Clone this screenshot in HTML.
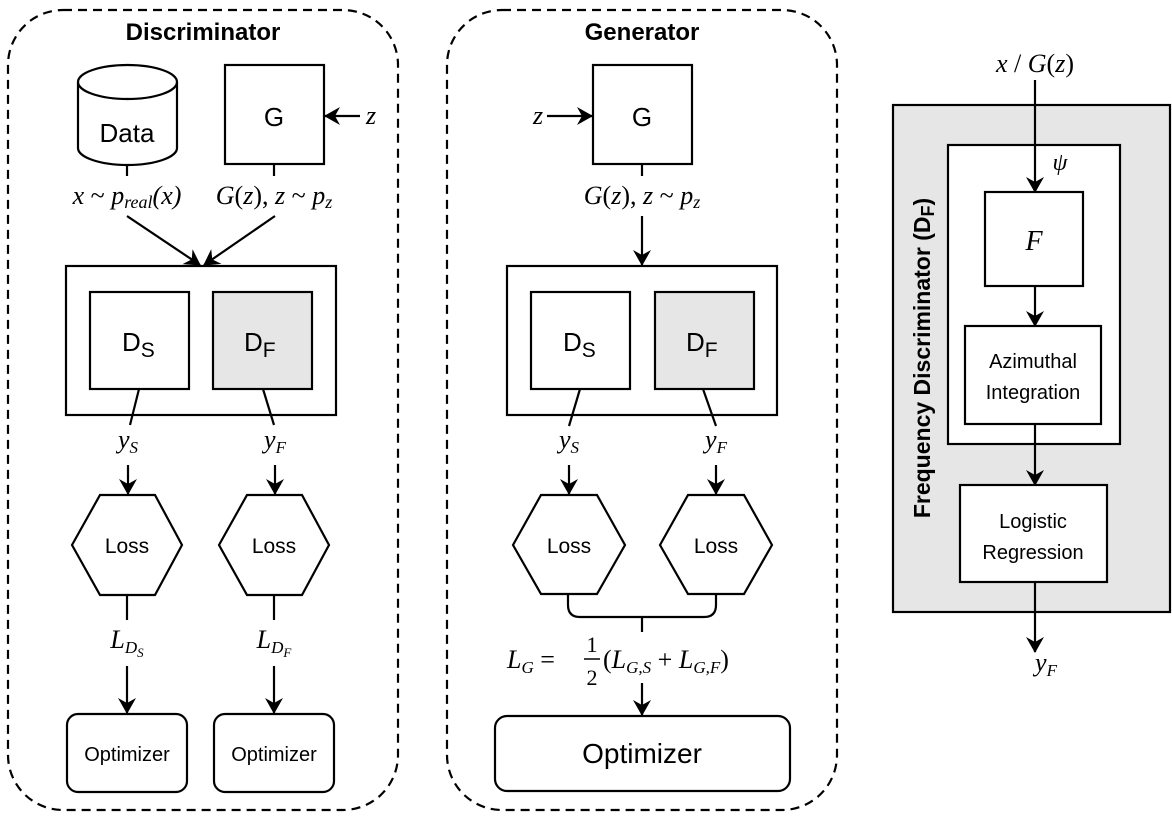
<!DOCTYPE html>
<html><head><meta charset="utf-8"><style>
html,body{margin:0;padding:0;background:#fff;}
svg{display:block;}
text{font-family:"Liberation Sans",sans-serif;fill:#000;}
.m{font-family:"Liberation Serif",serif;font-style:italic;}
.s{font-family:"Liberation Serif",serif;}
</style></head><body>
<svg width="1172" height="818" viewBox="0 0 1172 818" xmlns="http://www.w3.org/2000/svg">
<defs>
<marker id="a" viewBox="0 0 16 18" refX="15" refY="9" markerWidth="16" markerHeight="18" markerUnits="userSpaceOnUse" orient="auto">
<path d="M0,0 L16,9 L0,18 L5,9 Z" fill="#000" stroke="none"/>
</marker>
</defs>
<g fill="none" stroke="#000" stroke-width="2.2">
<rect x="8" y="10" width="390" height="800" rx="55" stroke-dasharray="9,6"/>
<rect x="447" y="10" width="390" height="800" rx="55" stroke-dasharray="9,6"/>
<path d="M78,82 L78,148 A49.5,17 0 0 0 177,148 L177,82"/>
<ellipse cx="127.5" cy="82" rx="49.5" ry="17"/>
<rect x="225" y="65" width="99" height="99"/>
<line x1="360" y1="116" x2="325" y2="116" marker-end="url(#a)"/>
<line x1="127" y1="165" x2="127" y2="176"/>
<line x1="274" y1="164" x2="274" y2="176"/>
<line x1="127" y1="216" x2="200" y2="265" marker-end="url(#a)"/>
<line x1="275" y1="216" x2="204" y2="265" marker-end="url(#a)"/>
<rect x="66" y="266" width="270" height="149"/>
<rect x="90" y="292" width="99" height="97"/>
<rect x="213" y="292" width="99" height="97" fill="#e6e6e6"/>
<line x1="139" y1="389" x2="130" y2="425"/>
<line x1="263" y1="389" x2="274" y2="425"/>
<line x1="128" y1="465" x2="128" y2="494" marker-end="url(#a)"/>
<line x1="275" y1="465" x2="275" y2="494" marker-end="url(#a)"/>
<polygon points="72,545 100,495 155,495 182,545 155,595 100,595"/>
<polygon points="219,545 247,495 302,495 329,545 302,595 247,595"/>
<line x1="127" y1="595" x2="127" y2="620"/>
<line x1="274" y1="595" x2="274" y2="620"/>
<line x1="127" y1="666" x2="127" y2="713" marker-end="url(#a)"/>
<line x1="274" y1="666" x2="274" y2="713" marker-end="url(#a)"/>
<rect x="67" y="714" width="120" height="78" rx="11"/>
<rect x="214" y="714" width="120" height="78" rx="11"/>
<rect x="593" y="65" width="99" height="99"/>
<line x1="547" y1="116" x2="592" y2="116" marker-end="url(#a)"/>
<line x1="642" y1="164" x2="642" y2="176"/>
<line x1="642" y1="216" x2="642" y2="265" marker-end="url(#a)"/>
<rect x="507" y="266" width="270" height="149"/>
<rect x="531" y="292" width="99" height="97"/>
<rect x="655" y="292" width="99" height="97" fill="#e6e6e6"/>
<line x1="580" y1="389" x2="569" y2="426"/>
<line x1="703" y1="389" x2="716" y2="426"/>
<line x1="569" y1="465" x2="569" y2="494" marker-end="url(#a)"/>
<line x1="716" y1="465" x2="716" y2="494" marker-end="url(#a)"/>
<polygon points="513,545 541,495 597,495 625,545 597,594 541,594"/>
<polygon points="660,545 688,495 744,495 772,545 744,594 688,594"/>
<path d="M568,594 L568,605 Q568,617 580,617 L704,617 Q716,617 716,605 L716,594"/>
<line x1="642" y1="617" x2="642" y2="632"/>
<line x1="642" y1="683" x2="642" y2="715" marker-end="url(#a)"/>
<rect x="495" y="716" width="295" height="75" rx="12"/>
<rect x="893" y="105" width="277" height="507" fill="#e6e6e6"/>
<rect x="948" y="145" width="172" height="299" fill="#fff"/>
<rect x="985" y="192" width="98" height="94" fill="#fff"/>
<rect x="965" y="326" width="136" height="98" fill="#fff"/>
<rect x="960" y="485" width="147" height="97" fill="#fff"/>
<line x1="1035" y1="80" x2="1035" y2="192" marker-end="url(#a)"/>
<line x1="1035" y1="286" x2="1035" y2="326" marker-end="url(#a)"/>
<line x1="1035" y1="424" x2="1035" y2="485" marker-end="url(#a)"/>
<line x1="1035" y1="582" x2="1035" y2="652" marker-end="url(#a)"/>
</g>
<text x="203" y="40" font-size="24" font-weight="bold" text-anchor="middle">Discriminator</text>
<text x="642" y="40" font-size="24" font-weight="bold" text-anchor="middle">Generator</text>
<text x="127" y="142" font-size="26" text-anchor="middle">Data</text>
<text x="274" y="126" font-size="26" text-anchor="middle">G</text>
<text x="642" y="126" font-size="26" text-anchor="middle">G</text>
<text x="371" y="124" font-size="26" class="m" text-anchor="middle">z</text>
<text x="538" y="124" font-size="26" class="m" text-anchor="middle">z</text>
<text x="127" y="204" font-size="26" class="m" text-anchor="middle">x <tspan font-style="normal">~</tspan> p<tspan font-size="18" dy="4">real</tspan><tspan dy="-4">(x)</tspan></text>
<text x="274" y="204" font-size="26" class="m" text-anchor="middle">G<tspan font-style="normal">(</tspan>z<tspan font-style="normal">),</tspan> z <tspan font-style="normal">~</tspan> p<tspan font-size="18" dy="4">z</tspan></text>
<text x="642" y="204" font-size="26" class="m" text-anchor="middle">G<tspan font-style="normal">(</tspan>z<tspan font-style="normal">),</tspan> z <tspan font-style="normal">~</tspan> p<tspan font-size="18" dy="4">z</tspan></text>
<text x="122" y="351" font-size="26">D<tspan font-size="21" dy="6">S</tspan></text>
<text x="244" y="351" font-size="26">D<tspan font-size="21" dy="6">F</tspan></text>
<text x="563" y="351" font-size="26">D<tspan font-size="21" dy="6">S</tspan></text>
<text x="686" y="351" font-size="26">D<tspan font-size="21" dy="6">F</tspan></text>
<text x="128" y="448" font-size="26" class="m" text-anchor="middle">y<tspan font-size="17" dy="5">S</tspan></text>
<text x="275" y="448" font-size="26" class="m" text-anchor="middle">y<tspan font-size="17" dy="5">F</tspan></text>
<text x="569" y="448" font-size="26" class="m" text-anchor="middle">y<tspan font-size="17" dy="5">S</tspan></text>
<text x="716" y="448" font-size="26" class="m" text-anchor="middle">y<tspan font-size="17" dy="5">F</tspan></text>
<text x="127" y="553" font-size="21" text-anchor="middle">Loss</text>
<text x="274" y="553" font-size="21" text-anchor="middle">Loss</text>
<text x="569" y="553" font-size="21" text-anchor="middle">Loss</text>
<text x="716" y="553" font-size="21" text-anchor="middle">Loss</text>
<text x="127" y="648" font-size="26" class="m" text-anchor="middle">L<tspan font-size="17" dy="5">D</tspan><tspan font-size="13" dy="4">S</tspan></text>
<text x="274" y="648" font-size="26" class="m" text-anchor="middle">L<tspan font-size="17" dy="5">D</tspan><tspan font-size="13" dy="4">F</tspan></text>
<text x="127" y="761" font-size="20" text-anchor="middle">Optimizer</text>
<text x="274" y="761" font-size="20" text-anchor="middle">Optimizer</text>
<text x="642" y="763" font-size="28" text-anchor="middle">Optimizer</text>
<text x="507" y="668" font-size="26" class="m">L<tspan font-size="17" dy="5">G</tspan><tspan font-style="normal" dy="-5"> = </tspan></text>
<text x="592" y="652" font-size="22" class="s" text-anchor="middle">1</text>
<line x1="584" y1="659" x2="600" y2="659" stroke="#000" stroke-width="1.5"/>
<text x="592" y="685" font-size="22" class="s" text-anchor="middle">2</text>
<text x="603" y="668" font-size="26" class="m"><tspan font-style="normal">(</tspan>L<tspan font-size="17" dy="5">G,S</tspan><tspan font-style="normal" dy="-5"> + </tspan>L<tspan font-size="17" dy="5">G,F</tspan><tspan font-style="normal" dy="-5">)</tspan></text>
<text x="1035" y="72" font-size="26" class="m" text-anchor="middle">x <tspan font-style="normal">/</tspan> G<tspan font-style="normal">(</tspan>z<tspan font-style="normal">)</tspan></text>
<text x="1060" y="170" font-size="24" class="m" text-anchor="middle">ψ</text>
<text x="1034" y="250" font-size="28" class="m" text-anchor="middle">F</text>
<text x="1033" y="368" font-size="20" text-anchor="middle">Azimuthal</text>
<text x="1033" y="399" font-size="20" text-anchor="middle">Integration</text>
<text x="1033" y="528" font-size="20" text-anchor="middle">Logistic</text>
<text x="1033" y="559" font-size="20" text-anchor="middle">Regression</text>
<text x="1046" y="671" font-size="26" class="m" text-anchor="middle">y<tspan font-size="17" dy="5">F</tspan></text>
<text transform="translate(930,358) rotate(-90)" font-size="23" font-weight="bold" text-anchor="middle">Frequency Discriminator (D<tspan font-size="18" dy="4">F</tspan><tspan dy="-4">)</tspan></text>
</svg>
</body></html>
